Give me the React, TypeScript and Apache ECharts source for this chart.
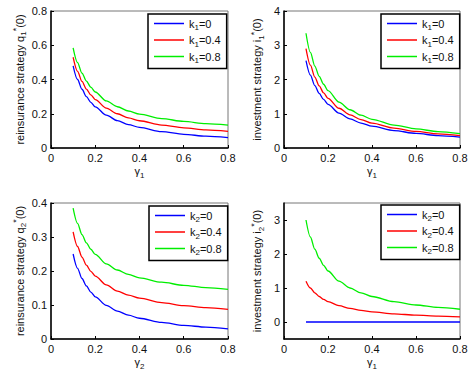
import React, { useEffect, useRef } from "react";
import * as echarts from "echarts";

const gammaValues = [0.1, 0.12, 0.14, 0.16, 0.18, 0.2, 0.25, 0.3, 0.35, 0.4, 0.5, 0.6, 0.7, 0.8];

// Panel A: reinsurance strategy q1*(0) vs gamma1
const qA_k0 = [0.48, 0.4, 0.343, 0.3, 0.267, 0.24, 0.192, 0.16, 0.137, 0.12, 0.096, 0.08, 0.069, 0.06];
const qA_k4 = [0.53, 0.448, 0.389, 0.344, 0.31, 0.283, 0.233, 0.2, 0.176, 0.159, 0.134, 0.118, 0.106, 0.097];
const qA_k8 = [0.585, 0.499, 0.437, 0.391, 0.355, 0.327, 0.275, 0.241, 0.216, 0.198, 0.172, 0.155, 0.142, 0.133];

// Panel B: investment strategy i1*(0) vs gamma1
const iB_k0 = [2.55, 2.125, 1.821, 1.594, 1.417, 1.275, 1.02, 0.85, 0.729, 0.638, 0.51, 0.425, 0.364, 0.319];
const iB_k4 = [2.9, 2.417, 2.071, 1.813, 1.611, 1.45, 1.16, 0.967, 0.829, 0.725, 0.58, 0.483, 0.414, 0.363];
const iB_k8 = [3.35, 2.792, 2.393, 2.094, 1.861, 1.675, 1.34, 1.117, 0.957, 0.838, 0.67, 0.558, 0.479, 0.419];

// Panel C: reinsurance strategy q2*(0) vs gamma2
const qC_k0 = [0.25, 0.208, 0.178, 0.156, 0.138, 0.124, 0.099, 0.082, 0.07, 0.061, 0.049, 0.04, 0.035, 0.03];
const qC_k4 = [0.315, 0.272, 0.241, 0.217, 0.199, 0.185, 0.159, 0.141, 0.129, 0.12, 0.107, 0.098, 0.092, 0.087];
const qC_k8 = [0.385, 0.34, 0.307, 0.283, 0.264, 0.249, 0.221, 0.203, 0.19, 0.18, 0.167, 0.158, 0.151, 0.146];

// Panel D: investment strategy i2*(0) vs gamma1
const iD_k0 = [0, 0, 0, 0, 0, 0, 0, 0, 0, 0, 0, 0, 0, 0];
const iD_k4 = [1.2, 1.0, 0.857, 0.75, 0.667, 0.6, 0.48, 0.4, 0.343, 0.3, 0.24, 0.2, 0.171, 0.15];
const iD_k8 = [3.0, 2.5, 2.143, 1.875, 1.667, 1.5, 1.2, 1.0, 0.857, 0.75, 0.6, 0.5, 0.429, 0.375];

const xTicks = [0, 0.2, 0.4, 0.6, 0.8];
const yTicksD = [0, 1, 2, 3];

const legendA = ["k1=0", "k1=0.4", "k1=0.8"];
const legendC = ["k2=0", "k2=0.4", "k2=0.8"];

const COLORS = ["#0000ff", "#ff0000", "#00ee00"];
const FONT = "Liberation Sans, Arial, sans-serif";
const TXT = "#111";

const richBase = {
  t: { fontSize: 11, fontFamily: FONT, color: TXT, lineHeight: 16, verticalAlign: "middle" as const },
  s: { fontSize: 8, fontFamily: FONT, color: TXT, lineHeight: 16, verticalAlign: "bottom" as const },
  p: { fontSize: 9, fontFamily: FONT, color: TXT, lineHeight: 16, verticalAlign: "top" as const },
};

function pairs(ys: number[]) {
  return gammaValues.map((x, i) => [x, ys[i]]);
}

export default function App() {
  const ref = useRef<HTMLDivElement>(null);
  useEffect(() => {
    if (!ref.current) return;
    const chart = echarts.init(ref.current, undefined, { renderer: "svg" });

    const grids = [
      { left: 51, top: 11, width: 177, height: 137 },
      { left: 284, top: 11, width: 176, height: 137 },
      { left: 51, top: 203, width: 177, height: 136 },
      { left: 284, top: 203, width: 176, height: 136 },
    ].map((g) => ({ ...g, show: true, borderColor: "#777", borderWidth: 1, backgroundColor: "#fff" }));

    const xNames = ["γ}{s|1}", "γ}{s|1}", "γ}{s|2}", "γ}{s|1}"];
    const xAxes = grids.map((_, i) => ({
      type: "value",
      gridIndex: i,
      min: 0,
      max: 0.8,
      interval: 0.2,
      name: "{t|" + xNames[i],
      nameLocation: "middle",
      nameGap: 15,
      nameTextStyle: { rich: richBase },
      axisLine: { show: true, onZero: false, lineStyle: { color: "#000", width: 1.5 } },
      axisTick: { show: true, inside: true, length: 3, lineStyle: { color: "#000" }, customValues: xTicks },
      axisLabel: {
        fontSize: 11,
        fontFamily: FONT,
        color: TXT,
        margin: 4,
        customValues: xTicks,
        formatter: (v: number) => (v === 0 ? "0" : v.toFixed(1)),
      },
      splitLine: { show: false },
    }));

    const yNames = [
      "{t|reinsurance strategy q}{s|1}{p|*}{t|(0)}",
      "{t|investment strategy i}{s|1}{p|*}{t|(0)}",
      "{t|reinsurance strategy q}{s|2}{p|*}{t|(0)}",
      "{t|investment strategy i}{s|2}{p|*}{t|(0)}",
    ];
    const yCfg = [
      { min: 0, max: 0.8, interval: 0.2, gap: 21, fmt: (v: number) => (v === 0 ? "0" : v.toFixed(1)) },
      { min: 0, max: 4, interval: 1, gap: 19, fmt: (v: number) => String(v) },
      { min: 0, max: 0.4, interval: 0.1, gap: 21, fmt: (v: number) => (v === 0 ? "0" : v.toFixed(1)) },
      { min: -0.5, max: 3.5, interval: 0.5, gap: 19, fmt: (v: number) => String(v) },
    ];
    const yAxes = yCfg.map((c, i) => ({
      type: "value",
      gridIndex: i,
      min: c.min,
      max: c.max,
      interval: c.interval,
      name: yNames[i],
      nameLocation: "middle",
      nameRotate: 90,
      nameGap: c.gap,
      nameTextStyle: { rich: richBase },
      axisLine: { show: true, onZero: false, lineStyle: { color: "#000", width: 1.5 } },
      axisTick: {
        show: true,
        inside: true,
        length: 3,
        lineStyle: { color: "#000" },
        ...(i === 3 ? { customValues: yTicksD } : {}),
      },
      axisLabel: {
        fontSize: 11,
        fontFamily: FONT,
        color: TXT,
        margin: 4,
        formatter: c.fmt,
        ...(i === 3 ? { customValues: yTicksD } : {}),
      },
      splitLine: { show: false },
    }));

    const panels = [
      [qA_k0, qA_k4, qA_k8],
      [iB_k0, iB_k4, iB_k8],
      [qC_k0, qC_k4, qC_k8],
      [iD_k0, iD_k4, iD_k8],
    ];
    const series: any[] = [];
    panels.forEach((ps, pi) => {
      const names = pi < 2 ? legendA : legendC;
      ps.forEach((ys, si) => {
        series.push({
          type: "line",
          name: names[si],
          xAxisIndex: pi,
          yAxisIndex: pi,
          data: pairs(ys),
          smooth: 0.3,
          smoothMonotone: "x",
          symbol: "none",
          color: COLORS[si],
          lineStyle: { color: COLORS[si], width: 1.3 },
        });
      });
    });

    const legendPos = [
      { left: 148, top: 14 },
      { left: 381, top: 14 },
      { left: 149, top: 206 },
      { left: 381, top: 205 },
    ];
    const fmtLegend = (name: string) => {
      const m = name.match(/^k(\d)=(.*)$/);
      if (!m) return name;
      return "{t|k}{s|" + m[1] + "}{t|=" + m[2] + "}";
    };
    const legends = legendPos.map((p, i) => ({
      ...p,
      orient: "vertical",
      data: (i < 2 ? legendA : legendC).map((n) => ({ name: n, icon: "rect" })),
      icon: "rect",
      itemWidth: 30,
      itemHeight: 1.5,
      itemGap: 3,
      padding: [4, 6, 4, 6],
      borderColor: "#000",
      borderWidth: 1.5,
      backgroundColor: "#fff",
      selectedMode: false,
      formatter: fmtLegend,
      textStyle: { rich: richBase, fontSize: 11, fontFamily: FONT, color: TXT },
    }));

    chart.setOption({
      animation: false,
      backgroundColor: "#fff",
      grid: grids,
      xAxis: xAxes,
      yAxis: yAxes,
      legend: legends,
      series,
    });
    return () => chart.dispose();
  }, []);
  return (
    <div
      ref={ref}
      style={{ position: "fixed", left: 0, top: 0, width: 474, height: 382, background: "#fff" }}
    />
  );
}
